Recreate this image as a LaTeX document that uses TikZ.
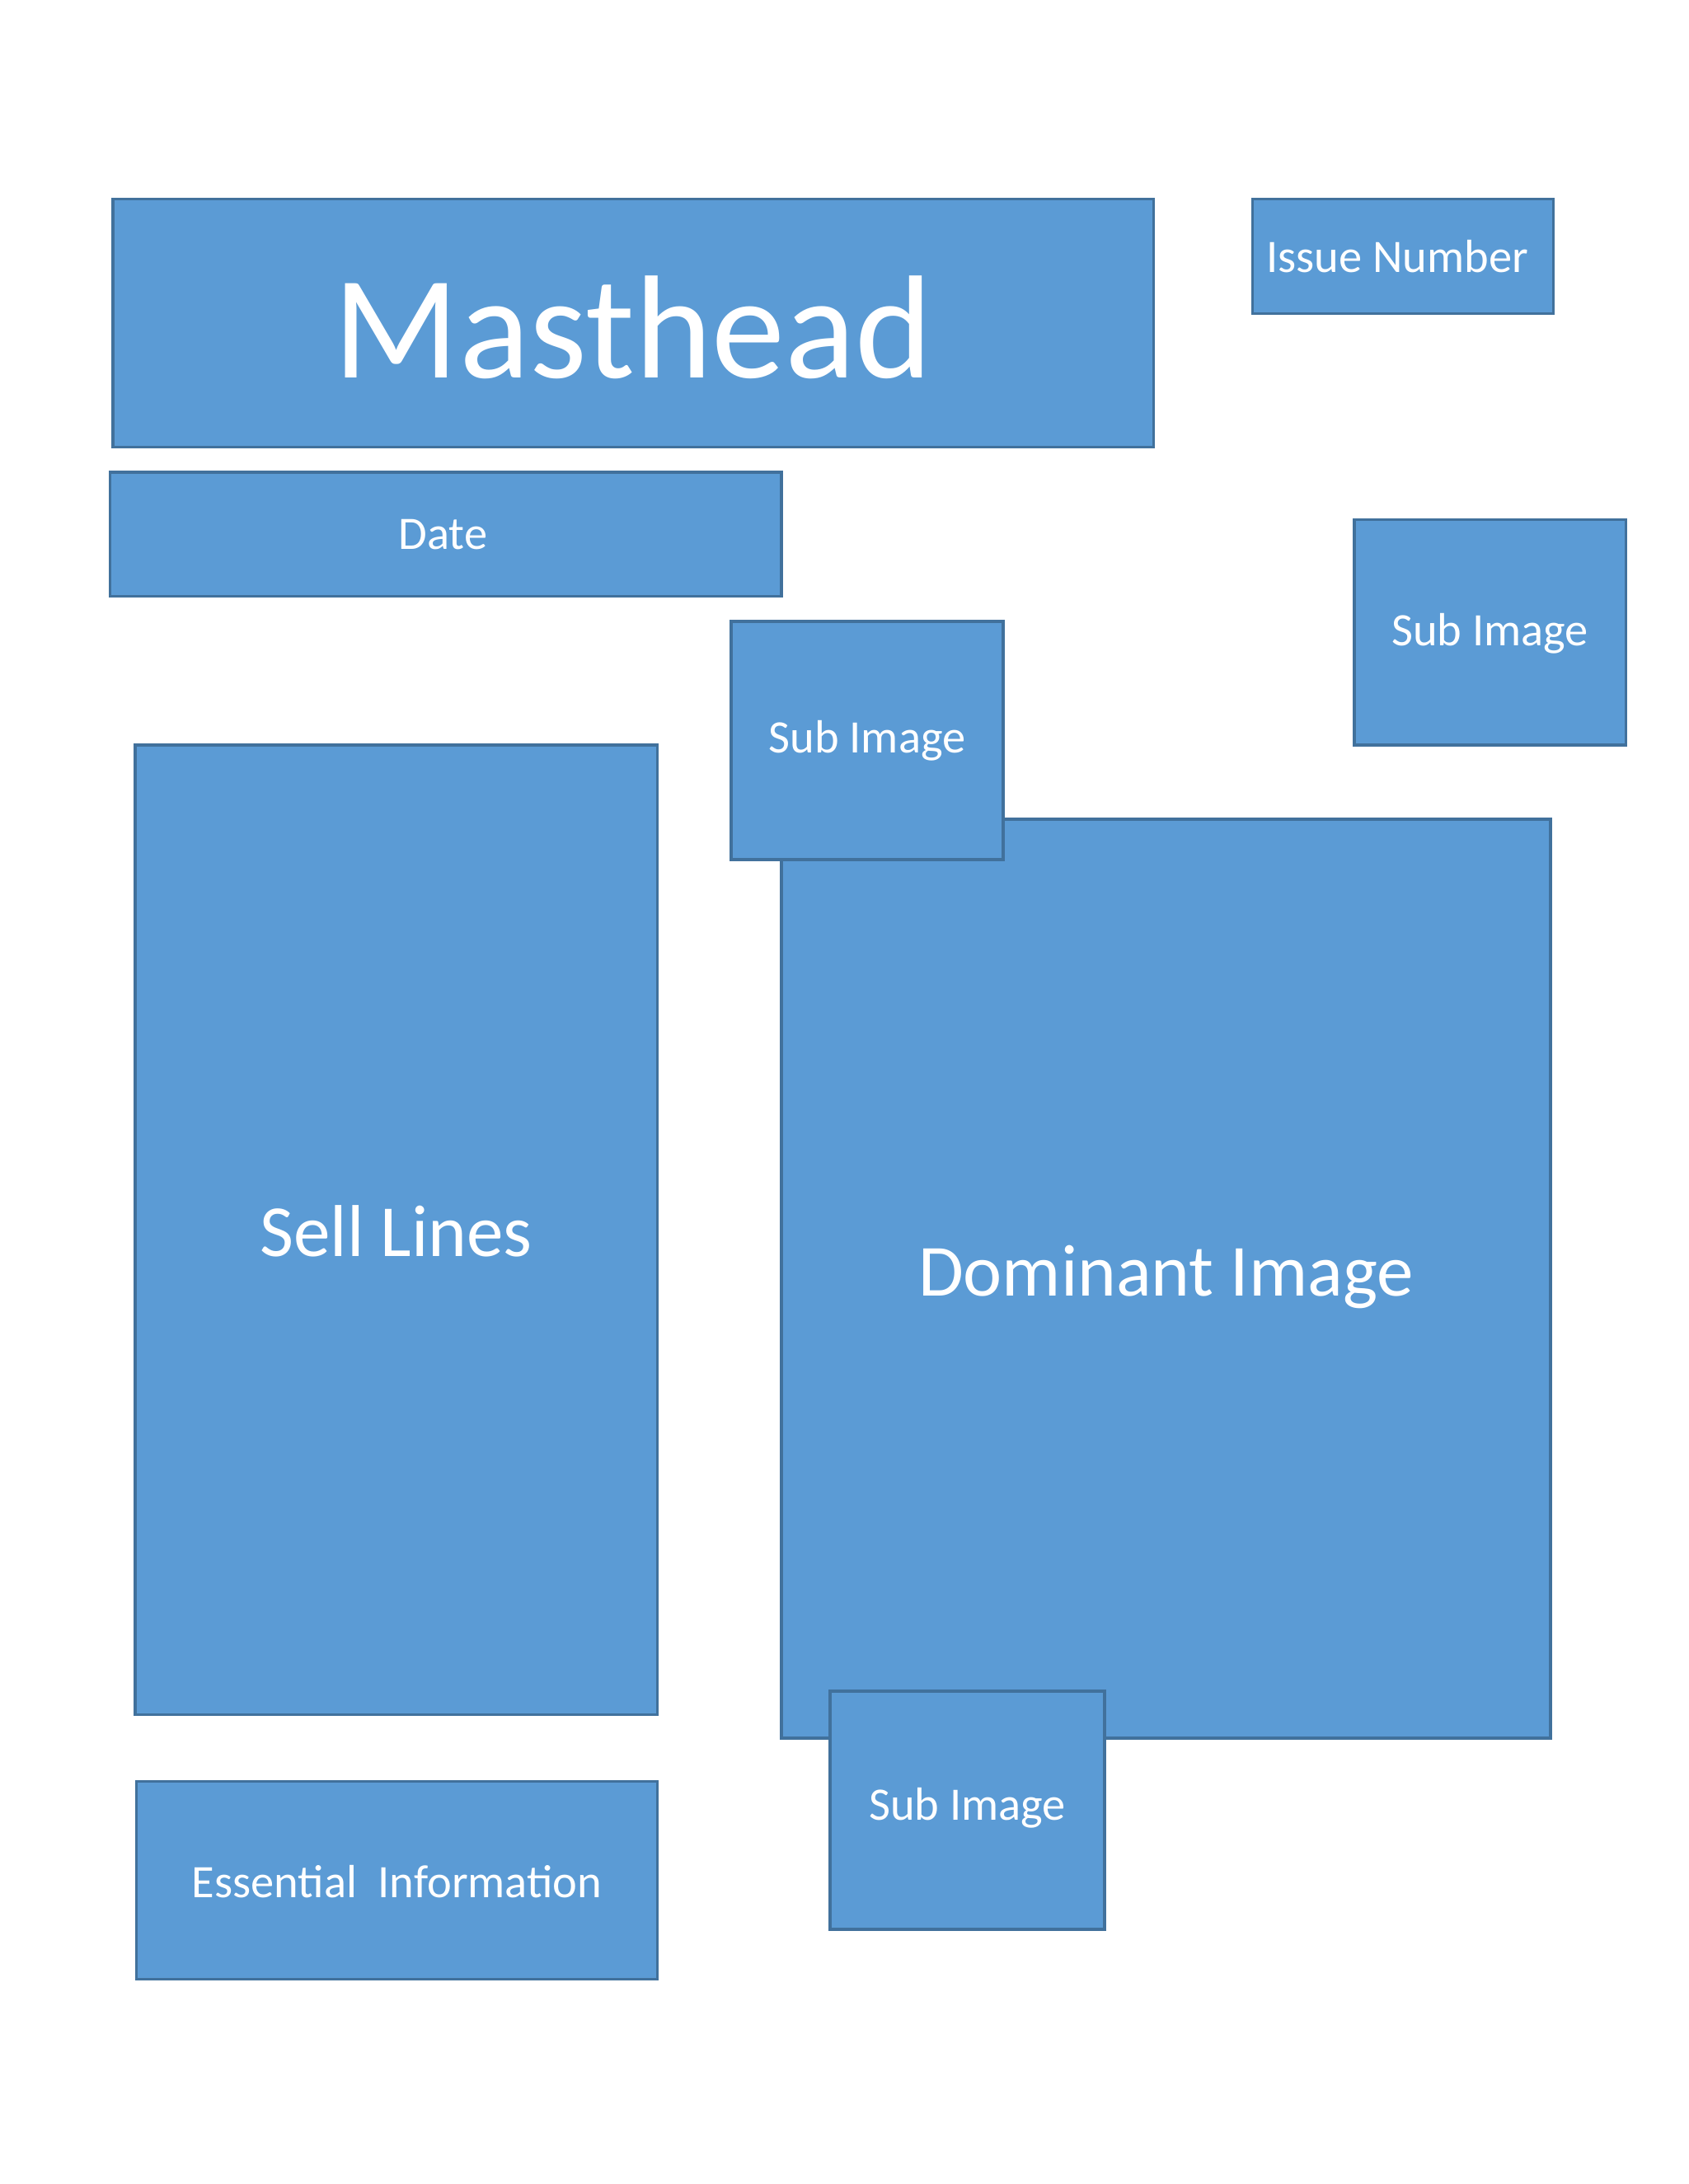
\documentclass[tikz,border=0pt]{standalone}
\usepackage{fontspec}
\setmainfont{Carlito}
\begin{document}
\begin{tikzpicture}[x=0.01cm,y=-0.01cm,
  box/.style={fill=boxfill,draw=boxline,line width=0.6pt},
  lbl/.style={text=white,font=\fontsize{9.5}{11}\selectfont}]
\definecolor{boxfill}{HTML}{5B9BD5}
\definecolor{boxline}{HTML}{41719C}
\useasboundingbox (0,0) rectangle (1212,1568);
\fill[white] (0,0) rectangle (1212,1568);
\draw[box] (81,143) rectangle (828,321);
\node[text=white,font=\fontsize{30}{34}\selectfont] (mast) at (454.5,235) {Masthead};
\draw[box] (899,143) rectangle (1115,225);
\node[lbl] (iss) at (1003,184) {Issue Number};
\draw[box] (79,339) rectangle (561,428);
\node[lbl] (date) at (318,384) {Date};
\draw[box] (972,373) rectangle (1167,535);
\node[lbl] (sub1) at (1069.5,455) {Sub Image};
\draw[box] (561,588) rectangle (1113,1248);
\node[text=white,font=\fontsize{15}{18}\selectfont] (dom) at (837,917) {Dominant Image};
\draw[box] (525,446) rectangle (720,617);
\node[lbl] (sub2) at (622.5,532) {Sub Image};
\draw[box] (97,535) rectangle (472,1231);
\node[text=white,font=\fontsize{15}{18}\selectfont] (sell) at (284.5,884) {Sell Lines};
\draw[box] (596,1214) rectangle (793,1385);
\node[lbl] (sub3) at (694.5,1298) {Sub Image};
\draw[box] (98,1279) rectangle (472,1421);
\node[lbl] (ess) at (285,1351) {Essential\ \ Information};
\end{tikzpicture}
\end{document}
